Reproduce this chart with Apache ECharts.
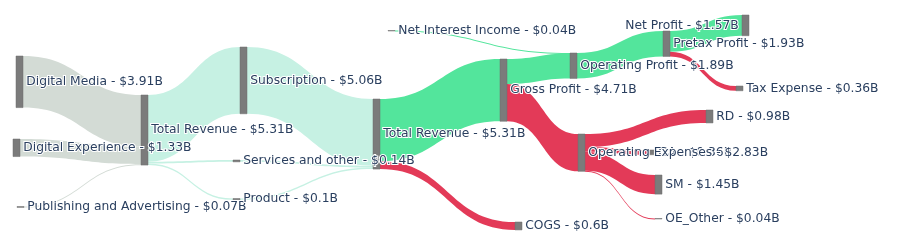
<!DOCTYPE html>
<html>
<head>
<meta charset="utf-8">
<script src="https://cdn.jsdelivr.net/npm/echarts@6/dist/echarts.min.js"></script>
<style>
  html, body { margin: 0; padding: 0; background: #fff; }
  #chart { width: 900px; height: 246px; }
</style>
</head>
<body>
<div id="chart"></div>
<script>
// nodes (Operating Expenses listed after its targets so its label sits on top of GA's)
const nodeNames = ['Digital Media', 'Digital Experience', 'Publishing and Advertising', 'Total Revenue',
  'Subscription', 'Services and other', 'Product', 'Total Revenue', 'Net Interest Income',
  'Gross Profit', 'COGS', 'Operating Profit', 'Pretax Profit',
  'RD', 'GA', 'SM', 'OE_Other', 'Operating Expenses', 'Net Profit', 'Tax Expense'];
const nodeAmounts = [3.91, 1.33, 0.07, 5.31, 5.06, 0.14, 0.1, 5.31, 0.04,
  4.71, 0.6, 1.89, 1.93, 0.98, 0.36, 1.45, 0.04, 2.83, 1.57, 0.36];

// links (index into nodeNames)
const linkSource = [0, 1, 2, 3, 3, 3, 4, 5, 6, 7, 7, 8, 9, 9, 11, 17, 17, 17, 17, 12, 12];
const linkTarget = [3, 3, 3, 4, 5, 6, 7, 7, 7, 9, 10, 11, 11, 17, 12, 13, 14, 15, 16, 18, 19];
const linkValues = [3.91, 1.33, 0.07, 5.06, 0.14, 0.1, 5.06, 0.14, 0.1, 4.71, 0.6, 0.04, 1.89, 2.83, 1.93, 0.98, 0.36, 1.45, 0.04, 1.57, 0.36];
const linkKind = ['seg', 'seg', 'seg', 'rev', 'rev', 'rev', 'rev', 'rev', 'rev', 'gain', 'cost', 'gain', 'gain', 'cost', 'gain', 'cost', 'cost', 'cost', 'cost', 'gain', 'cost'];

// layout: column, and pixel position of each node (left, top)
const nodeDepth = [0, 0, 0, 1, 2, 2, 2, 3, 5, 4, 4, 5, 6, 6, 6, 6, 6, 5, 7, 7];
const nodeX = [16, 13, 17, 141, 240, 233, 233, 373, 388, 500, 515, 570, 663, 706, 648, 655, 655, 578, 742, 736];
const nodeY = [56, 139, 206.5, 95, 47, 160, 198.5, 99, 30.5, 59, 222, 53, 31, 110, 150, 175, 218.5, 134, 15, 86];

const kindColor = { seg: '#d3dbd5', rev: '#c6f1e3', gain: '#53e59c', cost: '#e33a58' };

const W = 900;
const H = 70.2; // 13.2 px per $1B over the tallest column

let myChart = echarts.init(document.getElementById('chart'));

let nodes = nodeNames.map(function (n, i) {
  let item = {
    name: n + '#' + i,
    depth: nodeDepth[i],
    localX: nodeX[i] / W,
    localY: nodeY[i] / H
  };
  if (n === 'Net Profit') {
    item.label = { position: 'left' };
  }
  return item;
});

let links = linkSource.map(function (s, i) {
  return {
    source: nodes[s].name,
    target: nodes[linkTarget[i]].name,
    value: linkValues[i],
    lineStyle: { color: kindColor[linkKind[i]] }
  };
});

let option = {
  animation: false,
  series: [
    {
      type: 'sankey',
      left: 0,
      top: 0,
      width: W,
      height: H,
      nodeWidth: 7,
      nodeGap: 0,
      layoutIterations: 0,
      draggable: false,
      emphasis: { disabled: true },
      itemStyle: { color: '#7b7b7b', borderColor: '#6e6e6e', borderWidth: 0.5 },
      lineStyle: { opacity: 1, curveness: 0.5 },
      label: {
        position: 'right',
        distance: 3,
        fontFamily: 'DejaVu Sans',
        fontSize: 12.3,
        color: '#2a3f5f',
        textBorderColor: '#fff',
        textBorderWidth: 2,
        formatter: function (p) {
          return nodeNames[p.dataIndex] + ' - $' + nodeAmounts[p.dataIndex] + 'B';
        }
      },
      data: nodes,
      links: links
    }
  ]
};
myChart.setOption(option);
</script>
</body>
</html>
